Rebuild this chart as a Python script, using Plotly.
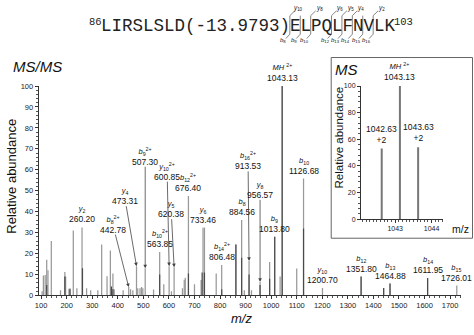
import plotly.graph_objects as go

W, H = 474, 335
SANS = "Liberation Sans, Arial, sans-serif"
MONO = "Liberation Mono, Courier New, monospace"

# ---------------- data ----------------
peak_mz = [104, 109, 116, 122, 127, 140, 176, 193, 196, 209, 213, 226, 240, 260.20,
           278, 294, 322, 337, 358, 371, 375, 381, 386, 421, 442.78, 450, 459, 473.31,
           478, 487, 493, 498, 507.30, 540, 563.85, 580, 600.85, 610, 620.38, 653, 660,
           664, 676.40, 700, 726, 733.46, 739, 785, 806.48, 862, 884.56, 895, 913.53,
           923, 956.57, 994, 1013.80, 1035, 1043.13, 1100, 1126.68, 1200.70, 1351.80,
           1440, 1464.88, 1611.95, 1726.01]
peak_int = [2, 9.5, 9.8, 17, 12, 26, 2.5, 11.2, 9, 3.2, 3.5, 31, 3.5, 32.5,
            3.5, 2.5, 2.5, 24.3, 9.2, 21.5, 4.5, 10.5, 3, 2.5, 4, 3, 2.5, 14,
            3.5, 3.5, 4, 3.5, 13, 2.8, 20.7, 5.4, 14, 2, 13.5, 3.5, 7.5,
            8.5, 47.5, 5.4, 7.4, 32.3, 32.5, 10.5, 14.5, 24.3, 36, 2.5, 16.5,
            2.5, 6.5, 16, 28, 9, 100, 12.9, 55.8, 3.6, 9,
            3.6, 5.7, 8.3, 4.7]

dark_mz = [122, 193, 213, 262, 375, 381, 563.85, 676.40, 730, 739, 806.48, 862, 884.56,
           913.53, 956.57, 994, 1013.80, 1043.13, 1126.68, 1351.80, 1440, 1464.88, 1611.95]
dark_int = [5, 9, 3, 13, 4, 3, 10, 10.5, 11, 11, 3, 24.3, 18,
            10, 5, 8, 28, 100, 32, 9, 3.6, 5.7, 8.3]

ms_mz = [1042.63, 1043.13, 1043.63]
ms_int = [53, 100, 54]
ms_charge = ["+2", None, "+2"]

label_mz = [260.20, 442.78, 473.31, 507.30, 563.85, 600.85, 620.38, 676.40, 733.46,
            806.48, 884.56, 913.53, 956.57, 1013.80, 1043.13, 1126.68, 1200.70,
            1351.80, 1464.88, 1611.95, 1726.01]
label_ion = ["<i>y</i><sub>2</sub>", "<i>b</i><sub>8</sub><sup>2+</sup>", "<i>y</i><sub>4</sub>",
             "<i>b</i><sub>9</sub><sup>2+</sup>", "<i>b</i><sub>10</sub><sup>2+</sup>",
             "<i>y</i><sub>10</sub><sup>2+</sup>", "<i>y</i><sub>5</sub>",
             "<i>b</i><sub>12</sub><sup>2+</sup>", "<i>y</i><sub>6</sub>",
             "<i>b</i><sub>14</sub><sup>2+</sup>", "<i>b</i><sub>8</sub>",
             "<i>b</i><sub>16</sub><sup>2+</sup>", "<i>y</i><sub>8</sub>", "<i>b</i><sub>9</sub>",
             "<i>MH</i> <sup>2+</sup>", "<i>b</i><sub>10</sub>", "<i>y</i><sub>10</sub>",
             "<i>b</i><sub>12</sub>", "<i>b</i><sub>13</sub>", "<i>b</i><sub>14</sub>",
             "<i>b</i><sub>15</sub>"]

seq_text = "LIRSLSLD(-13.9793)ELPQLFNVLK"
first_res, last_res = 86, 103
mod_after = 8
mod_text = "(-13.9793)"
b_ions = [8, 9, 10, 12, 13, 14, 15, 16]
y_ions = [10, 8, 6, 5, 4, 2]
n_res = 18

# ---------------- layout helpers ----------------
def fx(p):
    return p / W

def fy(p):
    return 1 - p / H

# arrow label tails (pixel offsets from peak top)
arrow_offsets = {442.78: (-16, -63), 473.31: (-12, -70), 507.30: (0, -112),
                 600.85: (-2, -95), 620.38: (-3, -58), 913.53: (-1, -100),
                 956.57: (0, -92)}

def sticks(xs, ys):
    X, Y = [], []
    for x, y in zip(xs, ys):
        X += [x, x, None]
        Y += [0, y, None]
    return X, Y

fig = go.Figure()
x, y = sticks(peak_mz, peak_int)
fig.add_trace(go.Scatter(x=x, y=y, mode="lines", line=dict(color="#999999", width=1.25),
                         hoverinfo="skip", xaxis="x", yaxis="y"))
x, y = sticks(dark_mz, dark_int)
fig.add_trace(go.Scatter(x=x, y=y, mode="lines", line=dict(color="#4a4a4a", width=1.2),
                         hoverinfo="skip", xaxis="x", yaxis="y"))
x, y = sticks(ms_mz, ms_int)
fig.add_trace(go.Scatter(x=x, y=y, mode="lines", line=dict(color="#777777", width=2),
                         hoverinfo="skip", xaxis="x2", yaxis="y2"))

anns = []
shapes = []

def ptext(xp, yp, text, size, xanchor="center", yanchor="middle", angle=0, family=SANS,
          color="#111", tight=False):
    a = dict(x=fx(xp), y=fy(yp), xref="paper", yref="paper", text=text,
             showarrow=False, xanchor=xanchor, yanchor=yanchor, textangle=angle,
             font=dict(size=size, family=family, color=color))
    if tight:
        a.update(borderpad=0, borderwidth=0)
    anns.append(a)

# peak labels
for mz, ion in zip(label_mz, label_ion):
    h = peak_int[peak_mz.index(mz)]
    txt = f"<span style='font-size:7.5px'>{ion}</span><br>{mz:.2f}"
    a = dict(x=mz, y=h, xref="x", yref="y", text=txt, borderpad=0, borderwidth=0,
             font=dict(size=8.5, family=SANS, color="#111"))
    if mz in arrow_offsets:
        ax, ay = arrow_offsets[mz]
        a.update(showarrow=True, ax=ax, ay=ay, arrowhead=2, arrowsize=0.9,
                 arrowwidth=0.8, arrowcolor="#444", standoff=0)
    else:
        a.update(showarrow=False, yanchor="bottom", yshift=3)
    anns.append(a)

# inset labels
for mz, h, ch in zip(ms_mz, ms_int, ms_charge):
    if ch is None:
        txt = f"<span style='font-size:7.5px'><i>MH</i> <sup>2+</sup></span><br>{mz:.2f}"
    else:
        txt = f"{mz:.2f}<br>{ch}"
    anns.append(dict(x=mz, y=h, xref="x2", yref="y2", text=txt, showarrow=False,
                     yanchor="bottom", yshift=2, font=dict(size=8.5, family=SANS, color="#111")))

# titles
ptext(7, 64.5, "<i>MS/MS</i>", 15, xanchor="left")
ptext(7.5, 177, "Relative abundance", 13, angle=-90)
ptext(240, 323, "<i>m/z</i>", 13)
ptext(332, 67.5, "<i>MS</i>", 15, xanchor="left")
ptext(338, 137, "Relative abundance", 11.5, angle=-90)
ptext(460, 231, "m/z", 10.5)

# sequence header
CHAR_W = 10.5
SEQ_X0 = 99.3
SEQ_Y = 23
ptext(SEQ_X0 - 1, SEQ_Y, seq_text, 17.5, xanchor="left", family=MONO, color="#222", tight=True)
ptext(SEQ_X0, SEQ_Y - 5, str(first_res), 10.5, xanchor="right", family=MONO, color="#222",
      tight=True)
ptext(SEQ_X0 + len(seq_text) * CHAR_W, SEQ_Y - 5, str(last_res), 10.5, xanchor="left",
      family=MONO, color="#222", tight=True)

def boundary(nb):
    k = nb + (len(mod_text) if nb >= mod_after else 0)
    return SEQ_X0 + k * CHAR_W

def pline(x0, y0, x1, y1):
    shapes.append(dict(type="line", xref="paper", yref="paper", x0=fx(x0), y0=fy(y0),
                       x1=fx(x1), y1=fy(y1), line=dict(color="#666", width=0.8)))

bset = {boundary(n) for n in b_ions} | {boundary(n_res - n) for n in y_ions}
for bx in bset:
    pline(bx, 12, bx, 31)
for n in y_ions:
    bx = boundary(n_res - n)
    pline(bx, 12, bx + 5, 7)
    ptext(bx + 8.5, 4, f"<i>y</i><sub>{n}</sub>", 6.3, tight=True)
for n in b_ions:
    bx = boundary(n)
    pline(bx, 31, bx - 4, 35.5)
    ptext(bx - 6.5, 37.2, f"<i>b</i><sub>{n}</sub>", 6.0, tight=True)

# inset frame
shapes.append(dict(type="rect", xref="paper", yref="paper", x0=fx(330), x1=fx(472.5),
                   y0=fy(240.7), y1=fy(55), line=dict(color="#666", width=1)))

axcommon = dict(showgrid=False, zeroline=False, showline=True, linecolor="#333", linewidth=1,
                ticks="outside", tickcolor="#333", tickwidth=1, fixedrange=True)

fig.update_layout(
    width=W, height=H, margin=dict(l=0, r=0, t=0, b=0, pad=0),
    paper_bgcolor="white", plot_bgcolor="white", showlegend=False,
    xaxis=dict(domain=[fx(35), fx(461)], range=[90.7, 1743], tick0=0, dtick=100, ticklen=3,
               tickfont=dict(size=7.5, family=SANS, color="#222"), anchor="y",
               minor=dict(tick0=0, dtick=20, ticklen=1.5, ticks="outside", tickcolor="#555"),
               **axcommon),
    yaxis=dict(domain=[fy(299.5), fy(84.3)], range=[0, 100], dtick=10, ticklen=3,
               tickfont=dict(size=7.5, family=SANS, color="#222"), anchor="x",
               minor=dict(dtick=2, ticklen=1.5, ticks="outside", tickcolor="#555"),
               **axcommon),
    xaxis2=dict(domain=[fx(360), fx(443)], range=[1042.06, 1044.32], tickvals=[1043, 1044],
                ticklen=3, tickfont=dict(size=7, family=SANS, color="#222"), anchor="y2",
                minor=dict(tick0=1042, dtick=0.1, ticklen=1.5, ticks="outside", tickcolor="#555"),
                **axcommon),
    yaxis2=dict(domain=[fy(221), fy(84.3)], range=[0, 100], dtick=20, ticklen=3,
                tickfont=dict(size=7, family=SANS, color="#222"), anchor="x2",
                minor=dict(dtick=4, ticklen=1.5, ticks="outside", tickcolor="#555"),
                **axcommon),
    annotations=anns, shapes=shapes,
)

fig.write_html("out.html")
